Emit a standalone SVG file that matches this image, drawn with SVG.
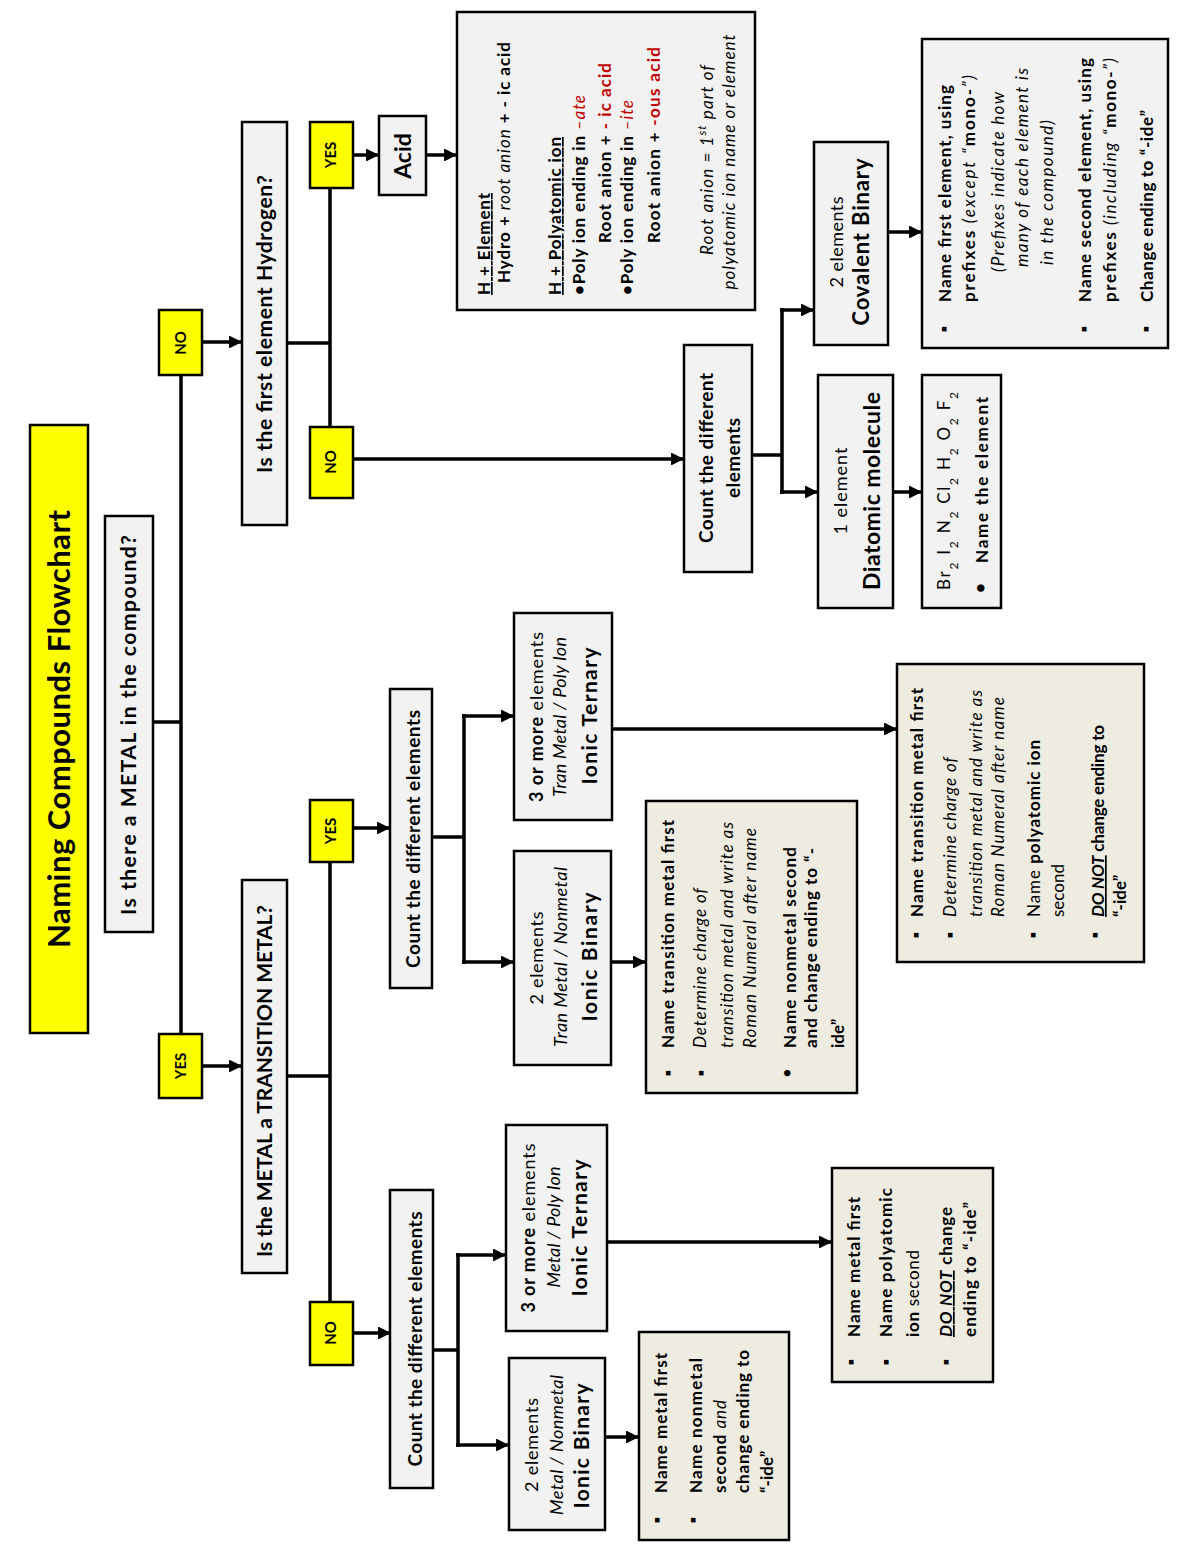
<svg xmlns="http://www.w3.org/2000/svg" width="1200" height="1553" viewBox="0 0 1200 1553">
<defs>
<style>
.box{fill:#f2f2f2;stroke:#000;stroke-width:2.5}
.yel{fill:#ffff00;stroke:#000;stroke-width:2.5}
.note{fill:#eeece1;stroke:#000;stroke-width:2.5}
.ln{stroke:#000;stroke-width:3.5;fill:none}
.ar{stroke:#000;stroke-width:3.5;fill:none;marker-end:url(#ah)}
text{font-family:Lato,"Liberation Sans",sans-serif;font-size:17px;fill:#000}
.m{text-anchor:middle}
.b{font-weight:700}
.i{font-style:italic}
.n{font-weight:400;font-style:normal}
.r{fill:#c00000}
.u{text-decoration:underline}
.yn{font-size:15px;font-weight:700;text-anchor:middle}
.q{font-size:21px;font-weight:700;text-anchor:middle}
.cnt{font-size:19px;font-weight:700;text-anchor:middle}
.s17{font-size:18px}
.s20{font-size:21px;font-weight:700}
.sub{font-size:12px}
</style>
<marker id="ah" viewBox="0 0 10 10" refX="10" refY="5" markerWidth="3.7" markerHeight="3.7" orient="auto" markerUnits="strokeWidth"><path d="M0,0 L10,5 L0,10 z" fill="#000"/></marker>
</defs>
<rect width="1200" height="1553" fill="#fff"/>

<g id="connectors">
<path class="ln" d="M153,722 H181"/>
<path class="ln" d="M181,375 V1034"/>
<path class="ar" d="M202,342 H242"/>
<path class="ar" d="M202,1066 H242"/>
<path class="ln" d="M287,343 H330"/>
<path class="ln" d="M330,188 V427"/>
<path class="ar" d="M353,155 H379"/>
<path class="ar" d="M426,155 H457"/>
<path class="ar" d="M353,459 H684"/>
<path class="ln" d="M752,455 H782"/>
<path class="ln" d="M782,308 V494"/>
<path class="ar" d="M780,310 H814"/>
<path class="ar" d="M780,492 H818"/>
<path class="ar" d="M888,232 H922"/>
<path class="ar" d="M893,492 H922"/>
<path class="ln" d="M287,1076 H330"/>
<path class="ln" d="M330,862 V1302"/>
<path class="ar" d="M353,828 H390"/>
<path class="ln" d="M432,837 H464"/>
<path class="ln" d="M464,714 V964"/>
<path class="ar" d="M462,716 H514"/>
<path class="ar" d="M462,962 H514"/>
<path class="ar" d="M612,729 H897"/>
<path class="ar" d="M611,962 H646"/>
<path class="ar" d="M353,1333 H391"/>
<path class="ln" d="M433,1350 H458"/>
<path class="ln" d="M458,1253 V1447"/>
<path class="ar" d="M456,1255 H506"/>
<path class="ar" d="M456,1445 H509"/>
<path class="ar" d="M607,1242 H832"/>
<path class="ar" d="M605,1437 H639"/>
</g>

<g id="title">
<rect class="yel" x="30" y="425" width="58" height="608"/>
<text class="m b" style="font-size:31px" transform="translate(70,729) rotate(-90)" textLength="438">Naming Compounds Flowchart</text>
</g>

<g id="q-metal">
<rect class="box" x="105" y="516" width="48" height="416"/>
<text class="q" transform="translate(136,725) rotate(-90)" textLength="380">Is there a METAL in the compound?</text>
</g>

<g id="no-metal">
<rect class="yel" x="159" y="310" width="43" height="65"/>
<text class="yn" transform="translate(186,343) rotate(-90)">NO</text>
</g>
<g id="yes-metal">
<rect class="yel" x="159" y="1034" width="43" height="64"/>
<text class="yn" transform="translate(186,1066) rotate(-90)">YES</text>
</g>

<g id="q-hydrogen">
<rect class="box" x="242" y="122" width="45" height="403"/>
<text class="q" transform="translate(272,324) rotate(-90)" textLength="298">Is the first element Hydrogen?</text>
</g>
<g id="yes-h">
<rect class="yel" x="310" y="122" width="43" height="66"/>
<text class="yn" transform="translate(336,155) rotate(-90)">YES</text>
</g>
<g id="no-h">
<rect class="yel" x="310" y="427" width="43" height="71"/>
<text class="yn" transform="translate(336,462) rotate(-90)">NO</text>
</g>

<g id="acid">
<rect class="box" x="379" y="116" width="47" height="79"/>
<text class="m b" style="font-size:23px" transform="translate(411,156) rotate(-90)">Acid</text>
</g>

<g id="acid-rules">
<rect class="box" x="457" y="12" width="298" height="298"/>
<text class="b u" transform="translate(490,295) rotate(-90)" textLength="102">H + Element</text>
<text transform="translate(510,283) rotate(-90)" textLength="241"><tspan class="b">Hydro + </tspan><tspan class="i">root anion</tspan><tspan class="b">  +  - ic acid</tspan></text>
<text class="b u" transform="translate(561,295) rotate(-90)" textLength="158">H + Polyatomic ion</text>
<text transform="translate(585,295) rotate(-90)" textLength="200"><tspan class="b">•Poly ion ending in </tspan><tspan class="i r">–ate</tspan></text>
<text transform="translate(611,243) rotate(-90)" textLength="180"><tspan class="b">Root anion  +  </tspan><tspan class="b r">- ic acid</tspan></text>
<text transform="translate(633,295) rotate(-90)" textLength="195"><tspan class="b">•Poly ion ending in </tspan><tspan class="i r">–ite</tspan></text>
<text transform="translate(660,243) rotate(-90)" textLength="196"><tspan class="b">Root anion  +  </tspan><tspan class="b r">-ous acid</tspan></text>
<text class="m i" transform="translate(713,160) rotate(-90)" textLength="190">Root anion  =  1<tspan class="sub" baseline-shift="super">st</tspan> part of</text>
<text class="m i" transform="translate(735,162) rotate(-90)" textLength="255">polyatomic ion name or element</text>
</g>

<g id="count-nonmetal">
<rect class="box" x="684" y="345" width="68" height="227"/>
<text class="cnt" transform="translate(713,458) rotate(-90)" textLength="170">Count the different</text>
<text class="cnt" transform="translate(740,458) rotate(-90)" textLength="80">elements</text>
</g>

<g id="covalent">
<rect class="box" x="814" y="142" width="74" height="203"/>
<text class="m s17" transform="translate(843,242) rotate(-90)" textLength="91">2 elements</text>
<text class="m b" style="font-size:22px" transform="translate(869,242) rotate(-90)" textLength="167">Covalent Binary</text>
</g>

<g id="covalent-rules">
<rect class="box" x="922" y="39" width="246" height="309"/>
<text class="m" transform="translate(950,329) rotate(-90)">▪</text>
<text class="b" transform="translate(951,302) rotate(-90)" textLength="217">Name first element, using</text>
<text transform="translate(975,302) rotate(-90)" textLength="227"><tspan class="b">prefixes</tspan><tspan class="i">    (except “</tspan><tspan class="b">mono-</tspan><tspan class="i">”)</tspan></text>
<text class="i" transform="translate(1004,272) rotate(-90)" textLength="180">(Prefixes indicate how</text>
<text class="i" transform="translate(1028,267) rotate(-90)" textLength="199">many of each element is</text>
<text class="i" transform="translate(1053,265) rotate(-90)" textLength="145">in the compound)</text>
<text class="m" transform="translate(1090,329) rotate(-90)">▪</text>
<text class="b" transform="translate(1091,302) rotate(-90)" textLength="244">Name second element, using</text>
<text transform="translate(1116,302) rotate(-90)" textLength="244"><tspan class="b">prefixes</tspan><tspan class="i">    (including “</tspan><tspan class="b">mono-</tspan><tspan class="i">”)</tspan></text>
<text class="m" transform="translate(1152,329) rotate(-90)">▪</text>
<text class="b" transform="translate(1153,302) rotate(-90)" textLength="192">Change ending to “-ide”</text>
</g>

<g id="diatomic">
<rect class="box" x="818" y="375" width="75" height="233"/>
<text class="m s17" transform="translate(847,491) rotate(-90)" textLength="87">1 element</text>
<text class="m b" style="font-size:23px" transform="translate(880,491) rotate(-90)" textLength="198">Diatomic molecule</text>
</g>

<g id="diatomic-rules">
<rect class="box" x="922" y="375" width="79" height="233"/>
<text transform="translate(950,590) rotate(-90)" textLength="198">Br<tspan class="sub" baseline-shift="sub">2</tspan> I<tspan class="sub" baseline-shift="sub">2</tspan> N<tspan class="sub" baseline-shift="sub">2</tspan> Cl<tspan class="sub" baseline-shift="sub">2</tspan> H<tspan class="sub" baseline-shift="sub">2</tspan> O<tspan class="sub" baseline-shift="sub">2</tspan> F<tspan class="sub" baseline-shift="sub">2</tspan></text>
<text class="m b" transform="translate(986,588) rotate(-90)">•</text>
<text class="b" transform="translate(988,563) rotate(-90)" textLength="166">Name the element</text>
</g>

<g id="q-transition">
<rect class="box" x="242" y="880" width="45" height="393"/>
<text class="q" transform="translate(272,1081) rotate(-90)" textLength="352">Is the METAL a TRANSITION METAL?</text>
</g>
<g id="yes-t">
<rect class="yel" x="310" y="800" width="43" height="62"/>
<text class="yn" transform="translate(336,831) rotate(-90)">YES</text>
</g>
<g id="no-t">
<rect class="yel" x="310" y="1302" width="43" height="63"/>
<text class="yn" transform="translate(336,1333) rotate(-90)">NO</text>
</g>

<g id="count-t">
<rect class="box" x="390" y="689" width="42" height="299"/>
<text class="cnt" transform="translate(420,839) rotate(-90)" textLength="258">Count the different elements</text>
</g>

<g id="ternary-t">
<rect class="box" x="514" y="613" width="98" height="207"/>
<text class="m s17" transform="translate(543,717) rotate(-90)" textLength="170"><tspan class="b">3 or more</tspan> elements</text>
<text class="m i s17" transform="translate(566,717) rotate(-90)" textLength="160">Tran Metal / Poly Ion</text>
<text class="m s20" transform="translate(597,716) rotate(-90)" textLength="137">Ionic Ternary</text>
</g>

<g id="binary-t">
<rect class="box" x="514" y="851" width="97" height="214"/>
<text class="m s17" transform="translate(543,958) rotate(-90)" textLength="93">2 elements</text>
<text class="m i s17" transform="translate(567,957) rotate(-90)" textLength="180">Tran Metal / Nonmetal</text>
<text class="m s20" transform="translate(597,957) rotate(-90)" textLength="129">Ionic Binary</text>
</g>

<g id="binary-t-rules">
<rect class="note" x="646" y="801" width="211" height="292"/>
<text class="m" transform="translate(674,1073) rotate(-90)">▪</text>
<text class="b" transform="translate(674,1048) rotate(-90)" textLength="228">Name transition metal first</text>
<text class="m" transform="translate(707,1073) rotate(-90)">▪</text>
<text class="i" transform="translate(706,1048) rotate(-90)" textLength="160">Determine charge of</text>
<text class="i" transform="translate(733,1048) rotate(-90)" textLength="226">transition metal and write as</text>
<text class="i" transform="translate(756,1048) rotate(-90)" textLength="220">Roman Numeral after name</text>
<text class="m" transform="translate(793,1073) rotate(-90)">•</text>
<text class="b" transform="translate(796,1048) rotate(-90)" textLength="201">Name nonmetal second</text>
<text class="b" transform="translate(817,1048) rotate(-90)" textLength="200">and change ending to “-</text>
<text class="b" transform="translate(844,1048) rotate(-90)">ide”</text>
</g>

<g id="ternary-t-rules">
<rect class="note" x="897" y="664" width="247" height="298"/>
<text class="m" transform="translate(922,935) rotate(-90)">▪</text>
<text class="b" transform="translate(923,917) rotate(-90)" textLength="229">Name transition metal first</text>
<text class="m" transform="translate(956,935) rotate(-90)">▪</text>
<text class="i" transform="translate(956,917) rotate(-90)" textLength="160">Determine charge of</text>
<text class="i" transform="translate(982,917) rotate(-90)" textLength="227">transition metal and write as</text>
<text class="i" transform="translate(1004,917) rotate(-90)" textLength="220">Roman Numeral after name</text>
<text class="m" transform="translate(1039,935) rotate(-90)">▪</text>
<text transform="translate(1040,917) rotate(-90)" textLength="177">Name <tspan class="b">polyatomic ion</tspan></text>
<text transform="translate(1064,917) rotate(-90)">second</text>
<text class="m" transform="translate(1101,935) rotate(-90)">▪</text>
<text transform="translate(1104,917) rotate(-90)" textLength="192"><tspan class="b i u">DO NOT</tspan><tspan class="b"> change ending to</tspan></text>
<text class="b" transform="translate(1126,917) rotate(-90)">“-ide”</text>
</g>

<g id="count-m">
<rect class="box" x="390" y="1190" width="43" height="298"/>
<text class="cnt" transform="translate(422,1339) rotate(-90)" textLength="255">Count the different elements</text>
</g>

<g id="ternary-m">
<rect class="box" x="506" y="1125" width="101" height="206"/>
<text class="m s17" transform="translate(535,1228) rotate(-90)" textLength="169"><tspan class="b">3 or more</tspan> elements</text>
<text class="m i s17" transform="translate(560,1227) rotate(-90)" textLength="121">Metal / Poly Ion</text>
<text class="m s20" transform="translate(587,1228) rotate(-90)" textLength="137">Ionic Ternary</text>
</g>

<g id="binary-m">
<rect class="box" x="509" y="1358" width="96" height="172"/>
<text class="m s17" transform="translate(538,1445) rotate(-90)" textLength="94">2 elements</text>
<text class="m i s17" transform="translate(563,1445) rotate(-90)" textLength="140">Metal / Nonmetal</text>
<text class="m s20" transform="translate(589,1446) rotate(-90)" textLength="125">Ionic Binary</text>
</g>

<g id="binary-m-rules">
<rect class="note" x="639" y="1332" width="150" height="208"/>
<text class="m" transform="translate(663,1520) rotate(-90)">▪</text>
<text class="b" transform="translate(667,1493) rotate(-90)" textLength="140">Name metal first</text>
<text class="m" transform="translate(699,1520) rotate(-90)">▪</text>
<text class="b" transform="translate(702,1493) rotate(-90)" textLength="135">Name nonmetal</text>
<text transform="translate(726,1493) rotate(-90)" textLength="93"><tspan class="b">second </tspan><tspan class="i">and</tspan></text>
<text class="b" transform="translate(749,1493) rotate(-90)" textLength="143">change ending to</text>
<text class="b" transform="translate(773,1493) rotate(-90)">“-ide”</text>
</g>

<g id="ternary-m-rules">
<rect class="note" x="832" y="1168" width="161" height="214"/>
<text class="m" transform="translate(857,1362) rotate(-90)">▪</text>
<text class="b" transform="translate(860,1337) rotate(-90)" textLength="140">Name metal first</text>
<text class="m" transform="translate(892,1362) rotate(-90)">▪</text>
<text class="b" transform="translate(892,1337) rotate(-90)" textLength="149">Name polyatomic</text>
<text transform="translate(919,1337) rotate(-90)" textLength="87"><tspan class="b">ion</tspan> second</text>
<text class="m" transform="translate(952,1362) rotate(-90)">▪</text>
<text transform="translate(952,1337) rotate(-90)" textLength="130"><tspan class="b i u">DO NOT</tspan><tspan class="b"> change</tspan></text>
<text class="b" transform="translate(976,1337) rotate(-90)" textLength="135">ending to “-ide”</text>
</g>
</svg>
